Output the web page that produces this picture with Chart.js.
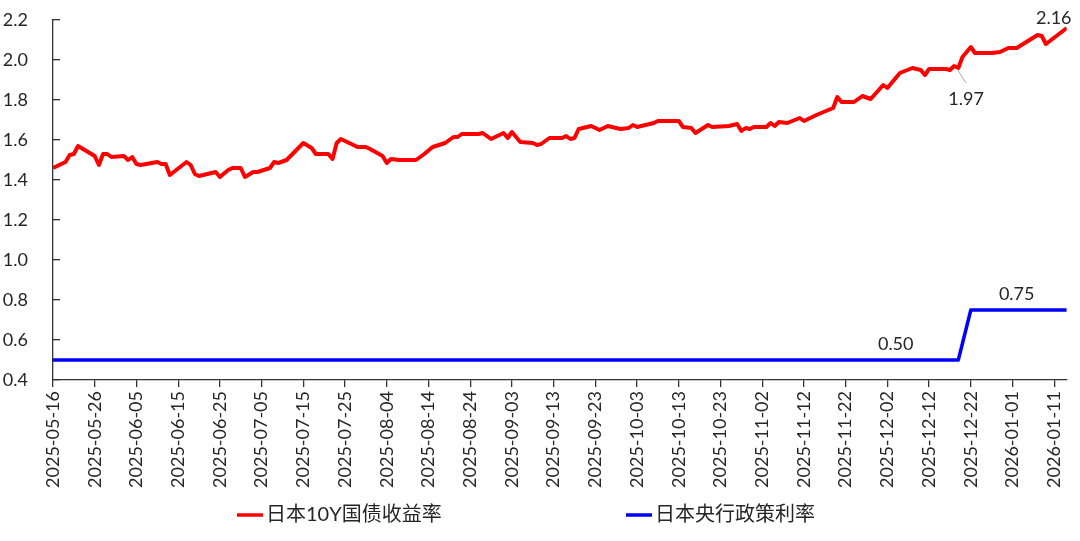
<!DOCTYPE html>
<html>
<head>
<meta charset="utf-8">
<title>日本10Y国债收益率与日本央行政策利率</title>
<script src="https://cdn.jsdelivr.net/npm/chart.js"></script>
<style>
    body { margin: 0; background: #fff; }
    #wrap { width: 1080px; height: 541px; position: relative; }
</style>
</head>
<body>

<div id="wrap"><canvas id="jgbChart"></canvas></div>

<script>
    // series names
    const seriesNames = ['日本10Y国债收益率', '日本央行政策利率'];

    // date range of the axis
    const startDate = '2025-05-16';
    const endDate = '2026-01-14';

    // 10Y JGB yield (%)
    const yieldDates = [
        '2025-05-16','2025-05-19','2025-05-20','2025-05-21','2025-05-22','2025-05-26','2025-05-27','2025-05-28','2025-05-29','2025-05-30',
        '2025-06-02','2025-06-03','2025-06-04','2025-06-05','2025-06-06','2025-06-10','2025-06-11','2025-06-12','2025-06-13','2025-06-17',
        '2025-06-18','2025-06-19','2025-06-20','2025-06-24','2025-06-25','2025-06-27','2025-06-28','2025-06-30','2025-07-01','2025-07-03',
        '2025-07-04','2025-07-07','2025-07-08','2025-07-09','2025-07-11','2025-07-15','2025-07-17','2025-07-18','2025-07-21','2025-07-22',
        '2025-07-23','2025-07-24','2025-07-28','2025-07-30','2025-07-31','2025-08-03','2025-08-04','2025-08-05','2025-08-07','2025-08-11',
        '2025-08-13','2025-08-15','2025-08-18','2025-08-20','2025-08-21','2025-08-22','2025-08-26','2025-08-27','2025-08-29','2025-09-01',
        '2025-09-02','2025-09-03','2025-09-05','2025-09-08','2025-09-09','2025-09-10','2025-09-12','2025-09-15','2025-09-16','2025-09-17',
        '2025-09-18','2025-09-19','2025-09-22','2025-09-24','2025-09-26','2025-09-29','2025-10-01','2025-10-02','2025-10-03','2025-10-07',
        '2025-10-08','2025-10-13','2025-10-14','2025-10-16','2025-10-17','2025-10-20','2025-10-21','2025-10-25','2025-10-27','2025-10-28',
        '2025-10-29','2025-10-30','2025-10-31','2025-11-03','2025-11-04','2025-11-05','2025-11-06','2025-11-08','2025-11-11','2025-11-12',
        '2025-11-15','2025-11-19','2025-11-20','2025-11-21','2025-11-24','2025-11-26','2025-11-28','2025-12-01','2025-12-02','2025-12-05',
        '2025-12-08','2025-12-10','2025-12-11','2025-12-12','2025-12-16','2025-12-17','2025-12-18','2025-12-19','2025-12-20','2025-12-22',
        '2025-12-23','2025-12-27','2025-12-29','2025-12-31','2026-01-02','2026-01-07','2026-01-08','2026-01-09','2026-01-14'
    ];
    const yieldValues = [
        1.46, 1.49, 1.525, 1.53, 1.57, 1.52, 1.475, 1.53, 1.53, 1.515,
        1.52, 1.50, 1.515, 1.48, 1.475, 1.49, 1.48, 1.48, 1.425, 1.49,
        1.475, 1.43, 1.42, 1.44, 1.415, 1.45, 1.46, 1.46, 1.415, 1.44,
        1.44, 1.46, 1.49, 1.485, 1.50, 1.585, 1.56, 1.53, 1.53, 1.505,
        1.585, 1.605, 1.565, 1.565, 1.555, 1.52, 1.485, 1.505, 1.50, 1.50,
        1.53, 1.565, 1.585, 1.615, 1.615, 1.63, 1.63, 1.635, 1.605, 1.635,
        1.61, 1.64, 1.59, 1.585, 1.575, 1.58, 1.61, 1.61, 1.62, 1.605,
        1.61, 1.655, 1.67, 1.65, 1.67, 1.655, 1.66, 1.675, 1.665, 1.685,
        1.695, 1.695, 1.665, 1.66, 1.635, 1.675, 1.665, 1.67, 1.68, 1.645,
        1.66, 1.655, 1.665, 1.665, 1.685, 1.67, 1.69, 1.685, 1.71, 1.695,
        1.725, 1.76, 1.815, 1.79, 1.79, 1.82, 1.805, 1.875, 1.86, 1.935,
        1.96, 1.95, 1.925, 1.955, 1.955, 1.95, 1.97, 1.96, 2.015, 2.065,
        2.035, 2.035, 2.04, 2.06, 2.06, 2.125, 2.12, 2.08, 2.16
    ];

    // BOJ policy rate (%)
    const policyDates = ['2025-05-16', '2025-12-19', '2025-12-22', '2026-01-14'];
    const policyValues = [0.50, 0.50, 0.75, 0.75];

    // points that carry a value label
    const yieldLabelDates = ['2025-12-18', '2026-01-14'];
    const policyLabelDates = ['2025-12-04', '2026-01-02'];

    // y axis range
    const yMin = 0.4, yMax = 2.2, yStep = 0.2;
    const xStepDays = 10;

    const DAY = 86400000;
    const t0 = Date.parse(startDate);
    const dayOf = s => Math.round((Date.parse(s) - t0) / DAY);
    const dateOf = n => new Date(t0 + n * DAY).toISOString().slice(0, 10);

    const yieldPoints = yieldDates.map((d, i) => ({ x: dayOf(d), y: yieldValues[i] }));
    const policyPoints = policyDates.map((d, i) => ({ x: dayOf(d), y: policyValues[i] }));

    const FONT = 'Lato, "Noto Sans CJK SC", sans-serif';
    const TEXT = '#262626';
    const AXIS = '#333333';

    Chart.defaults.font.family = FONT;
    Chart.defaults.color = TEXT;

    // value labels next to chosen points
    const valueLabels = {
        id: 'valueLabels',
        afterDatasetsDraw(chart) {
            const { ctx, scales: { x, y } } = chart;
            ctx.save();
            ctx.font = '18px ' + FONT;
            ctx.fillStyle = TEXT;
            ctx.textAlign = 'center';
            ctx.textBaseline = 'middle';

            yieldLabelDates.forEach((d, k) => {
                const i = yieldDates.indexOf(d);
                const v = yieldValues[i];
                const px = x.getPixelForValue(dayOf(d));
                const py = y.getPixelForValue(v);
                if (k === 0) {
                    // below, with a leader line
                    ctx.strokeStyle = '#a6a6a6';
                    ctx.lineWidth = 1;
                    ctx.beginPath();
                    ctx.moveTo(px + 3, py + 3);
                    ctx.lineTo(px + 12, py + 17);
                    ctx.stroke();
                    ctx.fillText(v.toFixed(2), px + 12, py + 33);
                } else {
                    ctx.fillText(v.toFixed(2), px - 13, py - 10);
                }
            });

            policyLabelDates.forEach(d => {
                const n = dayOf(d);
                let v = policyValues[0];
                policyDates.forEach((pd, i) => { if (dayOf(pd) <= n) v = policyValues[i]; });
                ctx.fillText(v.toFixed(2), x.getPixelForValue(n), y.getPixelForValue(v) - 16);
            });
            ctx.restore();
        }
    };

    // legend drawn under the axis labels
    const bottomLegend = {
        id: 'bottomLegend',
        afterDraw(chart) {
            const ctx = chart.ctx;
            const items = [
                { text: seriesNames[0], color: '#ff0000', x: 237 },
                { text: seriesNames[1], color: '#0000ff', x: 626 }
            ];
            const ly = 515;
            ctx.save();
            ctx.font = '20px ' + FONT;
            ctx.textBaseline = 'middle';
            ctx.textAlign = 'left';
            items.forEach(it => {
                ctx.strokeStyle = it.color;
                ctx.lineWidth = 3.5;
                ctx.beginPath();
                ctx.moveTo(it.x, ly);
                ctx.lineTo(it.x + 26, ly);
                ctx.stroke();
                ctx.fillStyle = TEXT;
                ctx.fillText(it.text, it.x + 29, ly);
            });
            ctx.restore();
        }
    };

    const ctx = document.getElementById('jgbChart').getContext('2d');
    const jgbChart = new Chart(ctx, {
        type: 'line',
        data: {
            datasets: [
                {
                    label: seriesNames[0],
                    data: yieldPoints,
                    borderColor: '#ff0000',
                    backgroundColor: '#ff0000',
                    borderWidth: 4,
                    pointRadius: 0,
                    tension: 0,
                    borderJoinStyle: 'round'
                },
                {
                    label: seriesNames[1],
                    data: policyPoints,
                    borderColor: '#0000ff',
                    backgroundColor: '#0000ff',
                    borderWidth: 3.5,
                    pointRadius: 0,
                    tension: 0,
                    borderJoinStyle: 'round'
                }
            ]
        },
        options: {
            responsive: true,
            maintainAspectRatio: false,
            animation: false,
            layout: { padding: { top: 20, right: 12, bottom: 0, left: 0 } },
            plugins: {
                legend: { display: false },
                tooltip: { enabled: false }
            },
            scales: {
                x: {
                    type: 'linear',
                    min: 0,
                    max: dayOf(endDate),
                    afterFit: scale => { scale.height = 161; },
                    grid: {
                        drawOnChartArea: false,
                        drawTicks: true,
                        tickLength: 7,
                        color: AXIS,
                        lineWidth: 1.3
                    },
                    border: { color: AXIS, width: 1.3 },
                    ticks: {
                        stepSize: xStepDays,
                        includeBounds: false,
                        autoSkip: false,
                        maxRotation: 90,
                        minRotation: 90,
                        padding: 4,
                        font: { size: 18 },
                        color: TEXT,
                        callback: v => dateOf(v)
                    }
                },
                y: {
                    min: yMin,
                    max: yMax,
                    afterFit: scale => {
                        scale.width = 53;
                        // the big label padding should not push the plot down
                        scale.paddingTop = 0;
                        scale.paddingBottom = 0;
                    },
                    grid: {
                        drawOnChartArea: false,
                        drawTicks: true,
                        tickLength: -7,
                        color: AXIS,
                        lineWidth: 1.3
                    },
                    border: { color: AXIS, width: 1.3 },
                    ticks: {
                        stepSize: yStep,
                        padding: 32,
                        font: { size: 18 },
                        color: TEXT,
                        callback: v => v.toFixed(1)
                    }
                }
            }
        },
        plugins: [valueLabels, bottomLegend]
    });
</script>

</body>
</html>
